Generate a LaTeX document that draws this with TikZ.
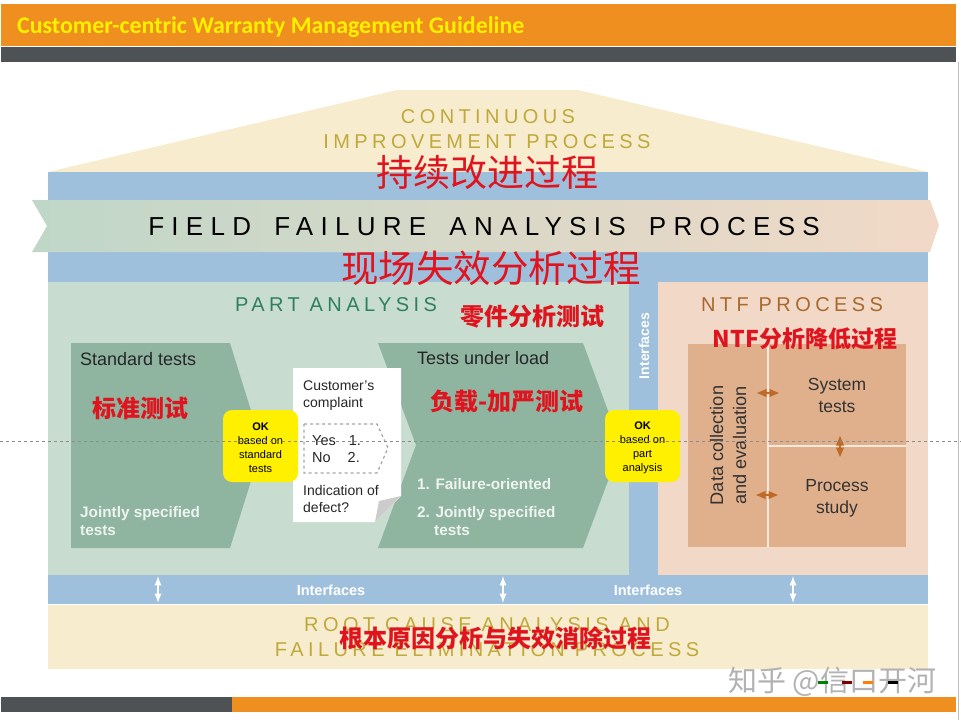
\documentclass[tikz,border=0pt]{standalone}
\usepackage{fontspec}
\setmainfont{Liberation Sans}
\newfontfamily\cjk{Noto Sans CJK SC}
\newfontfamily\titlefont{Carlito}
\newfontfamily\wide[LetterSpace=22]{Liberation Sans}
\newfontfamily\wider[LetterSpace=28,WordSpace=1.6]{Liberation Sans}
\usetikzlibrary{arrows,shapes}
\definecolor{barorange}{HTML}{EE8F1F}
\definecolor{bardark}{HTML}{4F5254}
\definecolor{cream}{HTML}{F8ECCF}
\definecolor{bandblue}{HTML}{9FC0DC}
\definecolor{panelgreen}{HTML}{C8DDCF}
\definecolor{panelpeach}{HTML}{F2D9C7}
\definecolor{chevgreen}{HTML}{8FB5A0}
\definecolor{boxtan}{HTML}{E0B08C}
\definecolor{olivetext}{HTML}{BFA93A}
\definecolor{parttext}{HTML}{2F7F60}
\definecolor{ntftext}{HTML}{A8682E}
\definecolor{redtext}{HTML}{E0141E}
\definecolor{arrowbrown}{HTML}{BF6A28}
\definecolor{okyellow}{HTML}{FFF000}
\tikzset{
    redlabel/.style={text=redtext, font=\cjk\bfseries},
    whitelabel/.style={text=white, font=\bfseries\fontsize{15.3}{18}\selectfont, align=left, anchor=west, inner sep=0pt, text opacity=0.85},
    blacklabel/.style={text=black!85, font=\fontsize{18}{20}\selectfont, anchor=west, inner sep=0pt},
    okbox/.style={fill=okyellow, rounded corners=9pt, minimum width=75pt, minimum height=72pt, inner sep=0pt, align=center, font=\fontsize{11}{14}\selectfont},
    ntflabel/.style={text=black!80, font=\fontsize{17.5}{22}\selectfont, align=center},
    smallarrow/.style={<->, >=triangle 45, draw=arrowbrown, line width=1.2pt},
    whitearrow/.style={<->, >=latex, draw=white, line width=2.2pt}
}
\begin{document}
\begin{tikzpicture}[x=1pt,y=-1pt]
    \useasboundingbox (0,0) rectangle (961,720);
    % bars
    \fill[barorange] (1,4) rectangle (956,46);
    \fill[bardark] (1,47) rectangle (956,62);
    \fill[bardark] (1,697) rectangle (232,712);
    \fill[barorange] (232,697) rectangle (956,712);
    \node[anchor=west,inner sep=0pt,text=okyellow,font=\titlefont\bfseries\fontsize{23.9}{26}\selectfont] (title) at (17,27) {Customer-centric Warranty Management Guideline};
    % house
    \fill[cream] (48,172) -- (397,90) -- (578,90) -- (928,172) -- cycle;
    \fill[bandblue] (48,172) rectangle (928,604);
    \shade[left color=panelgreen!85!chevgreen, middle color=panelgreen!70!white, right color=panelpeach] (32,200) -- (930,200) -- (939,225) -- (930,252) -- (32,252) -- (47,226) -- cycle;
    \fill[panelgreen] (48,282) rectangle (629,575);
    \fill[panelpeach] (658,282) rectangle (928,575);
    \fill[cream] (48,605) rectangle (928,669);
    % part analysis
    \fill[chevgreen] (71,343) -- (230,343) -- (262,446) -- (230,548) -- (71,548) -- cycle;
    \fill[chevgreen] (378,343) -- (583,343) -- (621,446) -- (583,548) -- (378,548) -- (416,445) -- cycle;
    \fill[white] (293,368) -- (401,368) -- (401,496) -- (375,522) -- (293,522) -- cycle;
    \fill[black!20] (401,496) -- (379,501) -- (375,522) -- cycle;
    \draw[dashed,draw=black!35,line width=1.2pt] (304,424) -- (377,424) -- (388,448) -- (377,473) -- (304,473) -- cycle;
    % ntf
    \fill[boxtan] (688,344) rectangle (906,547);
    \fill[panelpeach!60!white] (767,344) rectangle (769,547);
    \fill[panelpeach!60!white] (769,445) rectangle (906,447);
    % headings
    \node[text=olivetext,font=\wide\fontsize{20}{24}\selectfont] (cont1) at (488,117) {CONTINUOUS};
    \node[text=olivetext,font=\wide\fontsize{20}{24}\selectfont] (cont2) at (487,142) {IMPROVEMENT PROCESS};
    \node[redlabel,font=\cjk\fontsize{37}{40}\selectfont] (contcn) at (487,173) {持续改进过程};
    \node[text=black,font=\wider\fontsize{26}{28}\selectfont] (field) at (484,227) {FIELD FAILURE ANALYSIS PROCESS};
    \node[redlabel,font=\cjk\fontsize{37.5}{40}\selectfont] (fieldcn) at (491,268) {现场失效分析过程};
    \node[text=parttext,font=\wide\fontsize{20}{24}\selectfont] (part) at (336,305) {PART ANALYSIS};
    \node[redlabel,font=\cjk\bfseries\fontsize{24}{26}\selectfont] (partcn) at (532,317) {零件分析测试};
    \node[text=ntftext,font=\wide\fontsize{20}{24}\selectfont] (ntf) at (792,305) {NTF PROCESS};
    \node[redlabel,font=\cjk\bfseries\fontsize{23}{26}\selectfont] (ntfcn) at (805,339) {NTF分析降低过程};
    % standard tests
    \node[blacklabel] (std) at (80,359) {Standard tests};
    \node[redlabel,font=\cjk\bfseries\fontsize{24}{26}\selectfont] (stdcn) at (140,408) {标准测试};
    \node[whitelabel] (joint) at (80,521) {Jointly specified\\tests};
    \node[okbox] (ok1) at (260.5,446) {\rule{0pt}{12pt}\textbf{OK}\\based on\\standard\\tests};
    % complaint
    \node[blacklabel,font=\fontsize{14}{17}\selectfont,align=left] (cust) at (303,396) {Customer's\\complaint};
    \node[blacklabel,font=\fontsize{14.5}{17.5}\selectfont,align=left] (yes) at (312,449) {Yes\hspace{13pt}1.\\No\hspace{17pt}2.};
    \node[blacklabel,font=\fontsize{14}{17}\selectfont,align=left] (defect) at (303,498.5) {Indication of\\defect?};
    % tests under load
    \node[blacklabel] (load) at (417,358) {Tests under load};
    \node[redlabel,font=\cjk\bfseries\fontsize{24}{26}\selectfont] (loadcn) at (507,401) {负载-加严测试};
    \node[whitelabel] (fail) at (417,484) {1. Failure-oriented};
    \node[whitelabel] (joint2) at (417,521) {2. Jointly specified\\\hspace*{17pt}tests};
    \node[okbox] (ok2) at (642.5,446) {\rule{0pt}{12pt}\textbf{OK}\\based on\\part\\analysis};
    % interfaces
    \node[rotate=90,text=white,font=\bfseries\fontsize{14}{16}\selectfont] (ifv) at (644,346) {Interfaces};
    \node[text=white,font=\bfseries\fontsize{14.5}{16}\selectfont] (if1) at (331,590) {Interfaces};
    \node[text=white,font=\bfseries\fontsize{14.5}{16}\selectfont] (if2) at (648,590) {Interfaces};
    \foreach \n/\x in {a/158,b/503,c/793} {
        \coordinate (top\n) at (\x,576);
        \coordinate (bot\n) at (\x,603);
        \draw[whitearrow] (top\n) -- (bot\n);
    }
    % ntf boxes
    \node[ntflabel,rotate=90,font=\fontsize{18.2}{23}\selectfont] (data) at (728,445.5) {Data collection\\and evaluation};
    \node[ntflabel] (sys) at (837,395) {System\\tests};
    \node[ntflabel] (proc) at (837,498.5) {Process\\study};
    \coordinate (d1) at (757,393);
    \coordinate (s1) at (779,393);
    \coordinate (d2) at (756,495);
    \coordinate (p1) at (778,495);
    \coordinate (s2) at (840,436);
    \coordinate (p2) at (840,457);
    \draw[smallarrow] (d1) -- (s1);
    \draw[smallarrow] (d2) -- (p1);
    \draw[smallarrow] (s2) -- (p2);
    % root cause
    \node[text=olivetext,font=\wide\fontsize{20}{24}\selectfont] (root1) at (487,625) {ROOT CAUSE ANALYSIS AND};
    \node[text=olivetext,font=\wide\fontsize{20}{24}\selectfont] (root2) at (487,650) {FAILURE ELIMINATION PROCESS};
    \node[redlabel,font=\cjk\bfseries\fontsize{24}{26}\selectfont] (rootcn) at (495,638) {根本原因分析与失效消除过程};
    % guide line and edge
    \draw[dashed,draw=black!45,line width=0.5pt] (0,441) -- (961,441);
    \draw[draw=black!25,line width=0.7pt] (958,62) -- (958,720);
    % watermark
    \node[text=black!30,font=\cjk\fontsize{29}{32}\selectfont,anchor=west,inner sep=0pt] (mark) at (728,682) {知乎 @信口开河};
    \foreach \x/\c in {823/green!50!black,847/red!50!black,868/orange,893/black} {
        \fill[\c] (\x-5,680.5) rectangle (\x+5,683.5);
    }
\end{tikzpicture}
\end{document}
